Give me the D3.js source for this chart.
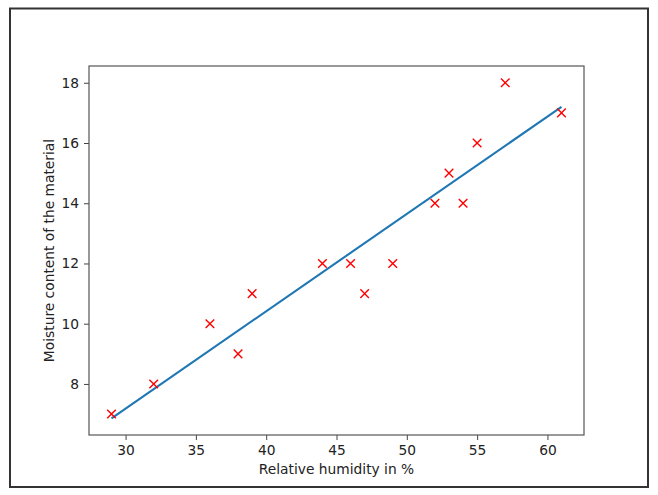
<!DOCTYPE html>
<html>
<head>
<meta charset="utf-8">
<script src="https://cdn.jsdelivr.net/npm/d3@7"></script>
<style>
  html, body { margin: 0; padding: 0; background: #fff; }
  svg { display: block; }
</style>
</head>
<body>
<div id="chart"></div>
<script>
// measured points: relative humidity vs. moisture content
const humidity = [29, 32, 36, 38, 39, 44, 46, 47, 49, 52, 53, 54, 55, 57, 61];
const moisture = [7, 8, 10, 9, 11, 12, 12, 11, 12, 14, 15, 14, 16, 18, 17];

// fitted line, ends
const fitX = [29, 61];
const fitY = [6.86, 17.2];

const xTicks = [30, 35, 40, 45, 50, 55, 60];
const yTicks = [8, 10, 12, 14, 16, 18];

const W = 658, H = 495;
const m = { left: 89, top: 66, right: 584, bottom: 435 };
const fontSize = '13.8px';
const font = '"DejaVu Sans", sans-serif';

const svg = d3.select('#chart').append('svg')
    .attr('width', W)
    .attr('height', H);

// outer frame of the figure
svg.append('rect')
    .attr('x', 10).attr('y', 8.5)
    .attr('width', 638).attr('height', 478.5)
    .attr('fill', 'none')
    .attr('stroke', '#333')
    .attr('stroke-width', 2);

const x = d3.scaleLinear().domain([27.4, 62.6]).range([m.left, m.right]);
const y = d3.scaleLinear().domain([6.305, 18.557]).range([m.bottom, m.top]);

const xAxis = svg.append('g')
    .attr('transform', `translate(0,${m.bottom})`)
    .call(d3.axisBottom(x).tickValues(xTicks).tickSize(5).tickPadding(5).tickSizeOuter(0));

const yAxis = svg.append('g')
    .attr('transform', `translate(${m.left},0)`)
    .call(d3.axisLeft(y).tickValues(yTicks).tickSize(5).tickPadding(5).tickSizeOuter(0));

[xAxis, yAxis].forEach(a => {
    a.select('.domain').remove();
    a.selectAll('.tick line').attr('stroke', '#444').attr('stroke-width', 1);
    a.selectAll('.tick text')
        .attr('fill', '#222')
        .style('font-family', font)
        .style('font-size', fontSize);
});

// plot box
svg.append('rect')
    .attr('x', m.left).attr('y', m.top)
    .attr('width', m.right - m.left).attr('height', m.bottom - m.top)
    .attr('fill', 'none')
    .attr('stroke', '#555')
    .attr('stroke-width', 1.2);

// regression line
svg.append('path')
    .datum(d3.zip(fitX, fitY))
    .attr('d', d3.line().x(d => x(d[0])).y(d => y(d[1])))
    .attr('fill', 'none')
    .attr('stroke', '#1f77b4')
    .attr('stroke-width', 2.1);

// x markers
const r = 4.3;
const pts = svg.append('g').selectAll('path')
    .data(d3.zip(humidity, moisture))
    .enter()
    .append('path')
    .attr('d', d => {
        const cx = x(d[0]), cy = y(d[1]);
        return `M${cx - r},${cy - r}L${cx + r},${cy + r}M${cx - r},${cy + r}L${cx + r},${cy - r}`;
    })
    .attr('stroke', 'red')
    .attr('stroke-width', 1.4)
    .attr('fill', 'none');

svg.append('text')
    .attr('x', (m.left + m.right) / 2)
    .attr('y', 474)
    .attr('text-anchor', 'middle')
    .style('font-family', font)
    .style('font-size', fontSize)
    .attr('fill', '#222')
    .text('Relative humidity in %');

svg.append('text')
    .attr('transform', `translate(54,${(m.top + m.bottom) / 2}) rotate(-90)`)
    .attr('text-anchor', 'middle')
    .style('font-family', font)
    .style('font-size', fontSize)
    .attr('fill', '#222')
    .text('Moisture content of the material');
</script>
</body>
</html>
